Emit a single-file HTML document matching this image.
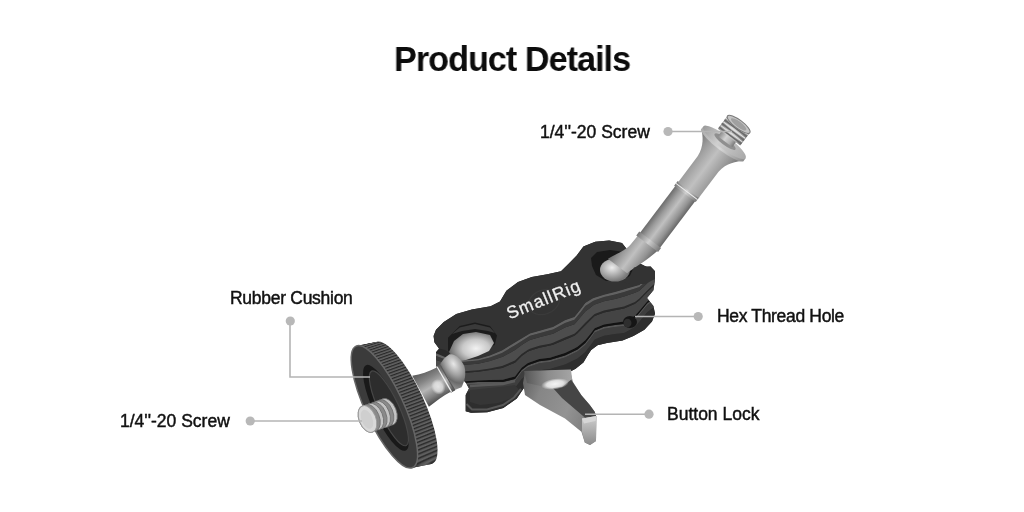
<!DOCTYPE html>
<html><head><meta charset="utf-8">
<style>
html,body{margin:0;padding:0;background:#fff;}
body{width:1024px;height:512px;position:relative;overflow:hidden;font-family:"Liberation Sans",sans-serif;color:#141414;}
.t{position:absolute;white-space:nowrap;will-change:transform;font-size:17.5px;line-height:1;-webkit-text-stroke:0.45px #111;color:#111;}
#title{position:absolute;will-change:transform;left:0;width:1024px;text-align:center;font-weight:bold;font-size:35.5px;top:42px;line-height:1;color:#0c0c0c;letter-spacing:-1px;transform:scaleX(0.962);transform-origin:514px 0;}
svg{position:absolute;left:0;top:0;}
</style></head><body>
<div id="title">Product Details</div>
<svg width="1024" height="512" viewBox="0 0 1024 512">
<defs>
 <linearGradient id="rod" x1="0" y1="0" x2="1" y2="0">
  <stop offset="0" stop-color="#6c6c6c"/><stop offset="0.25" stop-color="#9c9c9c"/><stop offset="0.5" stop-color="#c0c0c0"/><stop offset="0.8" stop-color="#939393"/><stop offset="1" stop-color="#666"/>
 </linearGradient>
 <radialGradient id="ball" cx="0.4" cy="0.4" r="0.6"><stop offset="0" stop-color="#eee"/><stop offset="1" stop-color="#777"/></radialGradient>
 <pattern id="knurl" width="3" height="3" patternUnits="userSpaceOnUse" patternTransform="rotate(70)"><rect width="3" height="3" fill="#666"/><rect width="1.3" height="3" fill="#242424"/></pattern>
 <linearGradient id="rodb" x1="0" y1="0" x2="1" y2="0"><stop offset="0" stop-color="#777"/><stop offset="0.5" stop-color="#d0d0d0"/><stop offset="1" stop-color="#777"/></linearGradient>
 <linearGradient id="collar" x1="0" y1="0" x2="1" y2="0"><stop offset="0" stop-color="#aaa"/><stop offset="0.5" stop-color="#d8d8d8"/><stop offset="1" stop-color="#8d8d8d"/></linearGradient>
 <linearGradient id="lev" x1="0" y1="0" x2="1" y2="0.3"><stop offset="0" stop-color="#4e4e4e"/><stop offset="0.5" stop-color="#7a7a7a"/><stop offset="1" stop-color="#666"/></linearGradient>
 <linearGradient id="levf" x1="0" y1="0" x2="1" y2="0.4"><stop offset="0" stop-color="#5c5c5c"/><stop offset="0.3" stop-color="#868686"/><stop offset="0.7" stop-color="#939393"/><stop offset="1" stop-color="#7e7e7e"/></linearGradient>
 <linearGradient id="levt" x1="0" y1="0" x2="1" y2="0"><stop offset="0" stop-color="#555"/><stop offset="0.5" stop-color="#8c8c8c"/><stop offset="1" stop-color="#a5a5a5"/></linearGradient>
 <radialGradient id="hl"><stop offset="0" stop-color="#f4f4f4"/><stop offset="0.6" stop-color="#e0e0e0"/><stop offset="1" stop-color="#e0e0e0" stop-opacity="0"/></radialGradient>
 <linearGradient id="tip" x1="0" y1="0" x2="0" y2="1"><stop offset="0" stop-color="#cfcfcf"/><stop offset="1" stop-color="#8a8a8a"/></linearGradient>
 <linearGradient id="collar2" x1="0" y1="0" x2="1" y2="0"><stop offset="0" stop-color="#9a9a9a"/><stop offset="0.4" stop-color="#cfcfcf"/><stop offset="1" stop-color="#a8a8a8"/></linearGradient>
 <linearGradient id="thr" x1="0" y1="0" x2="1" y2="0"><stop offset="0" stop-color="#8a8a8a"/><stop offset="0.4" stop-color="#d2d2d2"/><stop offset="0.75" stop-color="#b0b0b0"/><stop offset="1" stop-color="#7a7a7a"/></linearGradient>
 <radialGradient id="ballsec" cx="0.6" cy="0.3" r="0.8"><stop offset="0" stop-color="#e8e8e8"/><stop offset="0.45" stop-color="#a0a0a0"/><stop offset="0.75" stop-color="#6a6a6a"/><stop offset="1" stop-color="#8a8a8a"/></radialGradient>
 <radialGradient id="ball2" cx="0.6" cy="0.55" r="0.6"><stop offset="0" stop-color="#f2f2f2"/><stop offset="0.5" stop-color="#c8c8c8"/><stop offset="1" stop-color="#6a6a6a"/></radialGradient>
 <linearGradient id="scr" x1="0" y1="0" x2="1" y2="0"><stop offset="0" stop-color="#ddd"/><stop offset="1" stop-color="#888"/></linearGradient>
 <linearGradient id="neck2" x1="0" y1="0" x2="0" y2="1"><stop offset="0" stop-color="#5a5a5a"/><stop offset="0.3" stop-color="#858585"/><stop offset="0.55" stop-color="#b5b5b5"/><stop offset="0.8" stop-color="#808080"/><stop offset="1" stop-color="#4a4a4a"/></linearGradient>
</defs>
<g id="product">

 <g transform="translate(648.4,241.6) rotate(37)">
  <path fill="url(#rod)" d="M-12,2 L-12,-61 L13,-61 L13,2 Z"/>
  <rect x="-13" y="-66" width="27" height="6" fill="url(#rodb)"/>
  <line x1="-13" y1="-63" x2="14" y2="-63" stroke="#eee" stroke-width="1"/>
  <path fill="url(#rod)" d="M-12,-65 L-12,-98 C-13,-110 -20,-117 -25.5,-122 L27.5,-122 C22,-117 15,-110 14,-98 L14,-65 Z"/>
  <path fill="url(#collar)" d="M-25.5,-125 L-25.5,-121 A27,6 0 0 0 27.5,-121 L27.5,-125 Z"/>
  <ellipse cx="1" cy="-125" rx="26.5" ry="6.5" fill="url(#collar2)"/>
  <ellipse cx="1" cy="-126" rx="13" ry="3.5" fill="#8f8f8f"/>
  <path fill="url(#thr)" d="M-8,-126 L-8,-133 L10,-133 L10,-126 Z"/>
  <path fill="url(#thr)" d="M-12.5,-132 L-12.5,-148 L15.5,-148 L15.5,-132 Z"/>
  <g stroke="#6a6a6a" stroke-width="1.5"><line x1="-12.5" y1="-134" x2="15.5" y2="-134"/><line x1="-12.5" y1="-138.5" x2="15.5" y2="-138.5"/><line x1="-12.5" y1="-143" x2="15.5" y2="-143"/></g>
  <g stroke="#e4e4e4" stroke-width="1"><line x1="-12" y1="-136.2" x2="15" y2="-136.2"/><line x1="-12" y1="-140.7" x2="15" y2="-140.7"/><line x1="-12" y1="-145.2" x2="15" y2="-145.2"/></g>
  <ellipse cx="1.5" cy="-148" rx="14" ry="4.2" fill="#c4c4c4" stroke="#7a7a7a" stroke-width="1"/>
  <ellipse cx="1.5" cy="-148" rx="9.5" ry="2.8" fill="#a0a0a0"/>
 </g>

 <clipPath id="silclip"><path d="M433.6,336.0 L436.0,329.7 L443.8,321.9 L456.3,314.0 L471.9,309.4 L490.6,306.3 L500.0,301.6 L506.4,290.8 L518.0,282.0 L531.8,277.1 L547.4,274.2 L561.0,271.2 L568.9,263.4 L576.7,255.6 L583.4,246.4 L595.2,241.7 L609.2,240.5 L622.0,243.0 L637.0,262.0 L648.8,268.0 L655.0,279.4 L655.0,279.4 L653.4,290.3 L647.0,298.0 L653.4,306.0 L655.0,313.8 L652.0,321.6 L644.4,329.7 L633.4,336.0 L622.5,340.6 L606.9,343.0 L597.5,345.3 L591.2,350.0 L588.0,354.7 L583.4,362.5 L575.6,368.8 L569.4,371.9 L545.0,374.0 L525.6,379.2 L523.9,388.0 L516.8,398.6 L503.3,408.0 L487.2,412.3 L471.0,412.8 L465.7,411.2 L465.7,395.0 L469.0,388.5 L466.0,383.0 L452.0,368.0 L436.0,366.0 L436.0,352.0 L439.0,348.4 L434.4,342.2 Z"/></clipPath>
 <path fill="#282828" d="M433.6,336.0 L436.0,329.7 L443.8,321.9 L456.3,314.0 L471.9,309.4 L490.6,306.3 L500.0,301.6 L506.4,290.8 L518.0,282.0 L531.8,277.1 L547.4,274.2 L561.0,271.2 L568.9,263.4 L576.7,255.6 L583.4,246.4 L595.2,241.7 L609.2,240.5 L622.0,243.0 L637.0,262.0 L648.8,268.0 L655.0,279.4 L655.0,279.4 L653.4,290.3 L647.0,298.0 L653.4,306.0 L655.0,313.8 L652.0,321.6 L644.4,329.7 L633.4,336.0 L622.5,340.6 L606.9,343.0 L597.5,345.3 L591.2,350.0 L588.0,354.7 L583.4,362.5 L575.6,368.8 L569.4,371.9 L545.0,374.0 L525.6,379.2 L523.9,388.0 L516.8,398.6 L503.3,408.0 L487.2,412.3 L471.0,412.8 L465.7,411.2 L465.7,395.0 L469.0,388.5 L466.0,383.0 L452.0,368.0 L436.0,366.0 L436.0,352.0 L439.0,348.4 L434.4,342.2 Z"/>
 <g clip-path="url(#silclip)">
<path fill="#2e2e2e" d="M428.0,392.0 L445.0,392.0 L462.0,392.0 L478.0,391.0 L490.0,391.0 L502.0,391.0 L502.8,391.0 L515.0,388.0 L521.7,379.0 L527.6,374.4 L530.0,373.6 L539.3,370.3 L550.0,369.0 L553.0,368.1 L565.0,364.6 L574.4,359.9 L577.5,358.4 L580.6,355.9 L585.3,352.0 L590.0,346.0 L593.0,341.9 L594.7,339.6 L604.0,335.7 L615.0,334.0 L624.0,333.0 L627.0,331.4 L635.0,327.0 L639.4,321.7 L647.0,312.6 L647.5,312.0 L653.0,308.0 L662.0,302.0 L662.0,333.0 L653.0,339.0 L647.5,343.0 L647.0,343.6 L639.4,352.7 L635.0,358.0 L627.0,362.4 L624.0,364.0 L615.0,365.0 L604.0,366.7 L594.7,370.6 L593.0,372.9 L590.0,377.0 L585.3,383.0 L580.6,386.9 L577.5,389.4 L574.4,390.9 L565.0,395.6 L553.0,399.1 L550.0,400.0 L539.3,401.3 L530.0,404.6 L527.6,405.4 L521.7,410.0 L515.0,419.0 L502.8,422.0 L502.0,422.0 L490.0,422.0 L478.0,422.0 L462.0,423.0 L445.0,423.0 L428.0,423.0 Z"/>
<path fill="#3e3e3e" d="M428.0,385.0 L445.0,385.0 L462.0,385.0 L478.0,384.0 L490.0,384.0 L502.0,384.0 L502.8,384.0 L515.0,381.0 L521.7,372.0 L527.6,367.4 L530.0,366.6 L539.3,363.3 L550.0,362.0 L553.0,361.1 L565.0,357.6 L574.4,352.9 L577.5,351.4 L580.6,348.9 L585.3,345.0 L590.0,339.0 L593.0,334.9 L594.7,332.6 L604.0,328.7 L615.0,327.0 L624.0,326.0 L627.0,324.4 L635.0,320.0 L639.4,314.7 L647.0,305.6 L647.5,305.0 L653.0,301.0 L662.0,295.0 L662.0,302.0 L653.0,308.0 L647.5,312.0 L647.0,312.6 L639.4,321.7 L635.0,327.0 L627.0,331.4 L624.0,333.0 L615.0,334.0 L604.0,335.7 L594.7,339.6 L593.0,341.9 L590.0,346.0 L585.3,352.0 L580.6,355.9 L577.5,358.4 L574.4,359.9 L565.0,364.6 L553.0,368.1 L550.0,369.0 L539.3,370.3 L530.0,373.6 L527.6,374.4 L521.7,379.0 L515.0,388.0 L502.8,391.0 L502.0,391.0 L490.0,391.0 L478.0,391.0 L462.0,392.0 L445.0,392.0 L428.0,392.0 Z"/>
<path fill="#565656" d="M428.0,383.0 L445.0,383.0 L462.0,383.0 L478.0,382.0 L490.0,382.0 L502.0,382.0 L502.8,382.0 L515.0,379.0 L521.7,370.0 L527.6,365.4 L530.0,364.6 L539.3,361.3 L550.0,360.0 L553.0,359.1 L565.0,355.6 L574.4,350.9 L577.5,349.4 L580.6,346.9 L585.3,343.0 L590.0,337.0 L593.0,332.9 L594.7,330.6 L604.0,326.7 L615.0,325.0 L624.0,324.0 L627.0,322.4 L635.0,318.0 L639.4,312.7 L647.0,303.6 L647.5,303.0 L653.0,299.0 L662.0,293.0 L662.0,295.0 L653.0,301.0 L647.5,305.0 L647.0,305.6 L639.4,314.7 L635.0,320.0 L627.0,324.4 L624.0,326.0 L615.0,327.0 L604.0,328.7 L594.7,332.6 L593.0,334.9 L590.0,339.0 L585.3,345.0 L580.6,348.9 L577.5,351.4 L574.4,352.9 L565.0,357.6 L553.0,361.1 L550.0,362.0 L539.3,363.3 L530.0,366.6 L527.6,367.4 L521.7,372.0 L515.0,381.0 L502.8,384.0 L502.0,384.0 L490.0,384.0 L478.0,384.0 L462.0,385.0 L445.0,385.0 L428.0,385.0 Z"/>
<path fill="#121212" d="M428.0,380.7 L445.0,381.2 L462.0,381.4 L478.0,380.4 L490.0,380.1 L502.0,379.8 L502.8,379.7 L515.0,376.4 L521.7,367.8 L527.6,363.2 L530.0,362.3 L539.3,359.1 L550.0,357.7 L553.0,356.8 L565.0,353.1 L574.4,348.5 L577.5,346.8 L580.6,344.2 L585.3,340.2 L590.0,334.4 L593.0,330.5 L594.7,328.3 L604.0,324.4 L615.0,322.7 L624.0,321.5 L627.0,320.0 L635.0,315.7 L639.4,310.7 L647.0,301.8 L647.5,301.2 L653.0,297.0 L662.0,291.0 L662.0,293.0 L653.0,299.0 L647.5,303.0 L647.0,303.6 L639.4,312.7 L635.0,318.0 L627.0,322.4 L624.0,324.0 L615.0,325.0 L604.0,326.7 L594.7,330.6 L593.0,332.9 L590.0,337.0 L585.3,343.0 L580.6,346.9 L577.5,349.4 L574.4,350.9 L565.0,355.6 L553.0,359.1 L550.0,360.0 L539.3,361.3 L530.0,364.6 L527.6,365.4 L521.7,370.0 L515.0,379.0 L502.8,382.0 L502.0,382.0 L490.0,382.0 L478.0,382.0 L462.0,383.0 L445.0,383.0 L428.0,383.0 Z"/>
<path fill="#444444" d="M428.0,368.5 L445.0,371.6 L462.0,372.9 L478.0,371.7 L490.0,370.1 L502.0,367.9 L502.8,367.7 L515.0,362.7 L521.7,355.9 L527.6,351.8 L530.0,350.7 L539.3,347.7 L550.0,345.6 L553.0,344.8 L565.0,339.8 L574.4,335.8 L577.5,333.2 L580.6,330.1 L585.3,325.2 L590.0,320.6 L593.0,317.5 L594.7,315.9 L604.0,312.4 L615.0,310.3 L624.0,308.5 L627.0,307.2 L635.0,303.8 L639.4,300.3 L647.0,292.3 L647.5,291.7 L653.0,286.7 L662.0,280.2 L662.0,291.0 L653.0,297.0 L647.5,301.2 L647.0,301.8 L639.4,310.7 L635.0,315.7 L627.0,320.0 L624.0,321.5 L615.0,322.7 L604.0,324.4 L594.7,328.3 L593.0,330.5 L590.0,334.4 L585.3,340.2 L580.6,344.2 L577.5,346.8 L574.4,348.5 L565.0,353.1 L553.0,356.8 L550.0,357.7 L539.3,359.1 L530.0,362.3 L527.6,363.2 L521.7,367.8 L515.0,376.4 L502.8,379.7 L502.0,379.8 L490.0,380.1 L478.0,380.4 L462.0,381.4 L445.0,381.2 L428.0,380.7 Z"/>
<path fill="#2a2a2a" d="M428.0,366.5 L445.0,370.0 L462.0,371.5 L478.0,370.2 L490.0,368.5 L502.0,366.0 L502.8,365.8 L515.0,360.5 L521.7,354.0 L527.6,349.9 L530.0,348.8 L539.3,345.8 L550.0,343.7 L553.0,342.8 L565.0,337.6 L574.4,333.8 L577.5,331.0 L580.6,327.8 L585.3,322.8 L590.0,318.3 L593.0,315.4 L594.7,313.9 L604.0,310.4 L615.0,308.2 L624.0,306.4 L627.0,305.2 L635.0,301.9 L639.4,298.6 L647.0,290.8 L647.5,290.2 L653.0,285.0 L662.0,278.5 L662.0,280.2 L653.0,286.7 L647.5,291.7 L647.0,292.3 L639.4,300.3 L635.0,303.8 L627.0,307.2 L624.0,308.5 L615.0,310.3 L604.0,312.4 L594.7,315.9 L593.0,317.5 L590.0,320.6 L585.3,325.2 L580.6,330.1 L577.5,333.2 L574.4,335.8 L565.0,339.8 L553.0,344.8 L550.0,345.6 L539.3,347.7 L530.0,350.7 L527.6,351.8 L521.7,355.9 L515.0,362.7 L502.8,367.7 L502.0,367.9 L490.0,370.1 L478.0,371.7 L462.0,372.9 L445.0,371.6 L428.0,368.5 Z"/>
<path fill="#4d4d4d" d="M428.0,357.3 L445.0,362.7 L462.0,365.1 L478.0,363.7 L490.0,360.9 L502.0,357.0 L502.8,356.7 L515.0,350.1 L521.7,345.0 L527.6,341.3 L530.0,339.9 L539.3,337.2 L550.0,334.5 L553.0,333.7 L565.0,327.6 L574.4,324.2 L577.5,320.8 L580.6,317.1 L585.3,311.4 L590.0,307.9 L593.0,305.5 L594.7,304.6 L604.0,301.3 L615.0,298.9 L624.0,296.6 L627.0,295.6 L635.0,292.8 L639.4,290.7 L647.0,283.6 L647.5,283.0 L653.0,277.2 L662.0,270.4 L662.0,278.5 L653.0,285.0 L647.5,290.2 L647.0,290.8 L639.4,298.6 L635.0,301.9 L627.0,305.2 L624.0,306.4 L615.0,308.2 L604.0,310.4 L594.7,313.9 L593.0,315.4 L590.0,318.3 L585.3,322.8 L580.6,327.8 L577.5,331.0 L574.4,333.8 L565.0,337.6 L553.0,342.8 L550.0,343.7 L539.3,345.8 L530.0,348.8 L527.6,349.9 L521.7,354.0 L515.0,360.5 L502.8,365.8 L502.0,366.0 L490.0,368.5 L478.0,370.2 L462.0,371.5 L445.0,370.0 L428.0,366.5 Z"/>
<path fill="#3a3a3a" d="M428.0,353.0 L445.0,359.3 L462.0,362.1 L478.0,360.6 L490.0,357.4 L502.0,352.9 L502.8,352.4 L515.0,345.3 L521.7,340.9 L527.6,337.2 L530.0,335.8 L539.3,333.2 L550.0,330.3 L553.0,329.4 L565.0,322.9 L574.4,319.7 L577.5,316.0 L580.6,312.2 L585.3,306.1 L590.0,303.0 L593.0,301.0 L594.7,300.2 L604.0,297.1 L615.0,294.5 L624.0,292.0 L627.0,291.1 L635.0,288.6 L639.4,287.0 L647.0,280.3 L647.5,279.7 L653.0,273.5 L662.0,266.6 L662.0,270.4 L653.0,277.2 L647.5,283.0 L647.0,283.6 L639.4,290.7 L635.0,292.8 L627.0,295.6 L624.0,296.6 L615.0,298.9 L604.0,301.3 L594.7,304.6 L593.0,305.5 L590.0,307.9 L585.3,311.4 L580.6,317.1 L577.5,320.8 L574.4,324.2 L565.0,327.6 L553.0,333.7 L550.0,334.5 L539.3,337.2 L530.0,339.9 L527.6,341.3 L521.7,345.0 L515.0,350.1 L502.8,356.7 L502.0,357.0 L490.0,360.9 L478.0,363.7 L462.0,365.1 L445.0,362.7 L428.0,357.3 Z"/>
<path fill="#626262" d="M428.0,350.0 L445.0,357.0 L462.0,360.0 L478.0,358.5 L490.0,355.0 L502.0,350.0 L502.8,349.5 L515.0,342.0 L521.7,338.0 L527.6,334.4 L530.0,333.0 L539.3,330.4 L550.0,327.3 L553.0,326.5 L565.0,319.7 L574.4,316.6 L577.5,312.7 L580.6,308.8 L585.3,302.5 L590.0,299.6 L593.0,297.8 L594.7,297.2 L604.0,294.2 L615.0,291.5 L624.0,288.9 L627.0,288.0 L635.0,285.7 L639.4,284.5 L647.0,278.0 L647.5,277.4 L653.0,271.0 L662.0,264.0 L662.0,266.6 L653.0,273.5 L647.5,279.7 L647.0,280.3 L639.4,287.0 L635.0,288.6 L627.0,291.1 L624.0,292.0 L615.0,294.5 L604.0,297.1 L594.7,300.2 L593.0,301.0 L590.0,303.0 L585.3,306.1 L580.6,312.2 L577.5,316.0 L574.4,319.7 L565.0,322.9 L553.0,329.4 L550.0,330.3 L539.3,333.2 L530.0,335.8 L527.6,337.2 L521.7,340.9 L515.0,345.3 L502.8,352.4 L502.0,352.9 L490.0,357.4 L478.0,360.6 L462.0,362.1 L445.0,359.3 L428.0,353.0 Z"/>
 </g>
 <!-- top face -->
 <path fill="#333333" d="M433.6,336.0 L436.0,329.7 L443.8,321.9 L456.3,314.0 L471.9,309.4 L490.6,306.3 L500.0,301.6 L506.4,290.8 L518.0,282.0 L531.8,277.1 L547.4,274.2 L561.0,271.2 L568.9,263.4 L576.7,255.6 L583.4,246.4 L595.2,241.7 L609.2,240.5 L622.0,243.0 L637.0,262.0 L648.8,268.0 L655.0,279.4 L655.0,276.0 L653.0,271.5 L647.0,278.5 L639.4,285.0 L627.0,288.5 L615.0,292.0 L604.0,294.7 L593.0,298.3 L585.3,303.0 L580.6,309.2 L574.4,317.1 L565.0,320.2 L553.0,327.0 L530.0,333.5 L515.0,342.5 L502.0,350.5 L490.0,355.5 L478.0,359.0 L462.0,360.5 L445.3,350.0 L439.0,348.4 L434.4,342.2 Z"/>
 <!-- hex hole -->
 <ellipse cx="630" cy="322" rx="7" ry="6" fill="#151515"/>
 <ellipse cx="627.5" cy="323" rx="4" ry="4.3" fill="#2e2e2e"/>
 <!-- lower-left lobe -->
 <path fill="#363636" d="M470,390 L500,387 L515,385 L519,390 L512,398 L498,403 L480,405 L470,402 Z"/>
 <path fill="none" stroke="#575757" stroke-width="2" d="M466.5,404 L472,409.5 L487,409.5 L503,405 L514,397.5 L521,389"/>
 <path fill="none" stroke="#5a5a5a" stroke-width="2.5" d="M470,386 L485,385 L503,384 L515,381"/>
 <!-- left hole -->
 <path fill="#1c1c1c" d="M448,337.8 L459.7,326 L475,322.5 L490,326 L497,335.4 L494.8,344.8 L484.3,350.7 L475,353 L466.7,359 L455,357 L448,350.7 Z"/>
 <path fill="#3a3a3a" d="M452,334 L459.7,327.5 L475,324 L490,327.5 L495,333 L488,331 L475,329 L462,331 Z"/>
 <path fill="url(#ball2)" d="M449,352 L454,341 L463,334 L476,332 L490,335 L494,343 L489,351 L478,356 L466,360 L456,362 Z"/>
 <!-- right hole -->
 <path fill="#1a1a1a" d="M591,258 L597,252 L610,250 L624,252 L632,258 L634,267.5 L630,276 L620,281 L606,281 L596,275 L592,266 Z"/>
 <ellipse cx="615" cy="270" rx="15" ry="11.5" fill="url(#ball)"/>
 <g transform="translate(648.4,241.6) rotate(37)">
  <path fill="url(#rod)" d="M-12,1 L-12.5,14 C-14,24 -19,30 -22,38 L2,38 C5,28 10,16 13,1 Z"/>
  <rect x="-13.3" y="-2.5" width="27.3" height="5" fill="url(#rodb)"/>
 </g>
 <path fill="#333333" d="M630,276 L634,267.5 L642,266.5 L650.6,266.3 L655,271 L655,279 L645,284 L630,284 L622,282 Z"/>
 <ellipse cx="544" cy="302" rx="16" ry="12" fill="none" stroke="#3a3a3a" stroke-width="1.2" transform="rotate(-22 544 302)"/>
 <text x="0" y="0" transform="translate(509.5,319.5) rotate(-22)" font-family="Liberation Sans" font-size="17.5" fill="#f0f0f0" stroke="#f0f0f0" stroke-width="0.3" letter-spacing="1.1">SmallRig</text>


 <path fill="url(#levf)" d="M525,372 L545,371 L570,370 L573,382 L581.4,395.2 L589.8,405 L594.7,411.8 L596.4,417 L596,441 L590,445 L584.8,442.5 L581.4,431.8 L565,418.5 L540,405 L525,395 L523,383 Z"/>
 <path fill="#454545" d="M553,388 L570,378 L581.4,395.2 L589.8,405 L594.7,411.8 L596.4,417 L586,418.5 L576,410 L562,398 Z"/>
 <path fill="url(#levt)" d="M524,371 L571,369.5 L572,379 L562,387 L545,387 L527,383 Z"/>
 <ellipse cx="555" cy="384" rx="14" ry="5.5" fill="url(#hl)" transform="rotate(-8 555 384)"/>
 <path fill="url(#tip)" d="M582,418.5 L596.4,416 L596,441 L590,445 L584.8,442.5 L582,432 Z"/>
 <path fill="#d6d6d6" d="M582,418.5 L596.4,416 L595.5,421 L584,423.5 Z"/>


 <g transform="translate(421,391) rotate(-30)">
  <path fill="url(#neck2)" d="M0,-17.5 C8,-14.5 16,-13 26,-12.5 L26,15.5 C16,15 8,16.5 -1,17.5 Z"/>
  <path fill="url(#ballsec)" d="M29,-13 C33,-15.5 38,-17.5 43,-17.5 C48,-16 51,-8 50,0 C48,8 43,13 37,17 L29,16 Z"/>
  <ellipse cx="17" cy="5" rx="7" ry="8" fill="url(#hl)" opacity="0.8"/>
  <rect x="25" y="-13.5" width="5" height="30" fill="url(#neck2)"/>
  <line x1="26" y1="-13" x2="26" y2="16" stroke="#f0f0f0" stroke-width="1.3"/>
  <line x1="29.5" y1="-13" x2="29.5" y2="16" stroke="#5a5a5a" stroke-width="1.2"/>
 </g>

 <ellipse cx="404.40" cy="402.80" rx="19" ry="67" fill="url(#knurl)" transform="rotate(-25 404.40 402.80)"/>
 <ellipse cx="403.40" cy="403.00" rx="19" ry="67" fill="url(#knurl)" transform="rotate(-25 403.40 403.00)"/>
 <ellipse cx="402.40" cy="403.20" rx="19" ry="67" fill="url(#knurl)" transform="rotate(-25 402.40 403.20)"/>
 <ellipse cx="401.40" cy="403.40" rx="19" ry="67" fill="url(#knurl)" transform="rotate(-25 401.40 403.40)"/>
 <ellipse cx="400.40" cy="403.60" rx="19" ry="67" fill="url(#knurl)" transform="rotate(-25 400.40 403.60)"/>
 <ellipse cx="399.40" cy="403.80" rx="19" ry="67" fill="url(#knurl)" transform="rotate(-25 399.40 403.80)"/>
 <ellipse cx="398.40" cy="404.00" rx="19" ry="67" fill="url(#knurl)" transform="rotate(-25 398.40 404.00)"/>
 <ellipse cx="397.40" cy="404.20" rx="19" ry="67" fill="url(#knurl)" transform="rotate(-25 397.40 404.20)"/>
 <ellipse cx="396.40" cy="404.40" rx="19" ry="67" fill="url(#knurl)" transform="rotate(-25 396.40 404.40)"/>
 <ellipse cx="395.40" cy="404.60" rx="19" ry="67" fill="url(#knurl)" transform="rotate(-25 395.40 404.60)"/>
 <ellipse cx="394.40" cy="404.80" rx="19" ry="67" fill="url(#knurl)" transform="rotate(-25 394.40 404.80)"/>
 <ellipse cx="393.40" cy="405.00" rx="19" ry="67" fill="url(#knurl)" transform="rotate(-25 393.40 405.00)"/>
 <ellipse cx="392.40" cy="405.20" rx="19" ry="67" fill="url(#knurl)" transform="rotate(-25 392.40 405.20)"/>
 <ellipse cx="391.40" cy="405.40" rx="19" ry="67" fill="url(#knurl)" transform="rotate(-25 391.40 405.40)"/>
 <ellipse cx="390.40" cy="405.60" rx="19" ry="67" fill="url(#knurl)" transform="rotate(-25 390.40 405.60)"/>
 <ellipse cx="389.40" cy="405.80" rx="19" ry="67" fill="url(#knurl)" transform="rotate(-25 389.40 405.80)"/>
 <ellipse cx="388.40" cy="406.00" rx="19" ry="67" fill="url(#knurl)" transform="rotate(-25 388.40 406.00)"/>
 <ellipse cx="387.40" cy="406.20" rx="19" ry="67" fill="url(#knurl)" transform="rotate(-25 387.40 406.20)"/>
 <ellipse cx="386.40" cy="406.40" rx="19" ry="67" fill="url(#knurl)" transform="rotate(-25 386.40 406.40)"/>
 <ellipse cx="385.40" cy="406.60" rx="19" ry="67" fill="url(#knurl)" transform="rotate(-25 385.40 406.60)"/>
 <ellipse cx="384.40" cy="406.80" rx="19" ry="67" fill="url(#knurl)" transform="rotate(-25 384.40 406.80)"/>
 <ellipse cx="384.4" cy="406.8" rx="19" ry="67" fill="#3b3b3b" stroke="#676767" stroke-width="1.5" transform="rotate(-25 384.4 406.8)"/>
 <ellipse cx="385.9" cy="407.8" rx="12.5" ry="47" fill="#191919" transform="rotate(-25 385.9 407.8)"/>
 <ellipse cx="388.9" cy="408.3" rx="10" ry="41" fill="#2d2d2d" stroke="#474747" stroke-width="1.2" transform="rotate(-25 388.9 408.3)"/>
 <ellipse cx="387.9" cy="411.8" rx="8.4" ry="14" fill="#c4c4c4" stroke="#707070" stroke-width="0.8" transform="rotate(-22 387.9 411.8)"/>
 <ellipse cx="384.5" cy="413.0" rx="8.4" ry="14" fill="#8a8a8a" stroke="#707070" stroke-width="0.8" transform="rotate(-22 384.5 413.0)"/>
 <ellipse cx="381.1" cy="414.2" rx="8.4" ry="14" fill="#c4c4c4" stroke="#707070" stroke-width="0.8" transform="rotate(-22 381.1 414.2)"/>
 <ellipse cx="377.7" cy="415.4" rx="8.4" ry="14" fill="#8a8a8a" stroke="#707070" stroke-width="0.8" transform="rotate(-22 377.7 415.4)"/>
 <ellipse cx="374.3" cy="416.6" rx="8.4" ry="14" fill="#c4c4c4" stroke="#707070" stroke-width="0.8" transform="rotate(-22 374.3 416.6)"/>
 <ellipse cx="370.9" cy="417.8" rx="8.4" ry="14" fill="#8a8a8a" stroke="#707070" stroke-width="0.8" transform="rotate(-22 370.9 417.8)"/>
 <ellipse cx="367.5" cy="419.0" rx="8.4" ry="14" fill="#c4c4c4" stroke="#707070" stroke-width="0.8" transform="rotate(-22 367.5 419.0)"/>
 <ellipse cx="367.5" cy="419" rx="8.4" ry="14" fill="#d9d9d9" stroke="#9a9a9a" stroke-width="1" transform="rotate(-22 367.5 419)"/>
 <ellipse cx="367" cy="419.3" rx="5.4" ry="10" fill="#cfcfcf" transform="rotate(-22 367 419.3)"/>
</g>

<g stroke="#b4b4b4" stroke-width="1.6" fill="none">
 <line x1="668" y1="131.5" x2="732" y2="131.5"/>
 <polyline points="290,321 290,377 370,377"/>
 <line x1="250" y1="421" x2="362" y2="421"/>
 <line x1="635" y1="316.5" x2="698" y2="316.5"/>
 <line x1="585" y1="414.3" x2="649" y2="414.3"/>
</g>
<g fill="#b8b8b8">
 <circle cx="668" cy="131.5" r="4.6"/>
 <circle cx="290.3" cy="321" r="4.6"/>
 <circle cx="250.2" cy="421" r="4.6"/>
 <circle cx="698.2" cy="316.5" r="4.6"/>
 <circle cx="649" cy="414.2" r="4.6"/>
</g>
</svg>
<div class="t" style="left:540px;top:123.6px">1/4''-20 Screw</div>
<div class="t" style="left:230px;top:289.8px;letter-spacing:-0.28px">Rubber Cushion</div>
<div class="t" style="left:120px;top:412.8px">1/4''-20 Screw</div>
<div class="t" style="left:717px;top:307.5px;letter-spacing:-0.33px">Hex Thread Hole</div>
<div class="t" style="left:667px;top:406.3px">Button Lock</div>
</body></html>
